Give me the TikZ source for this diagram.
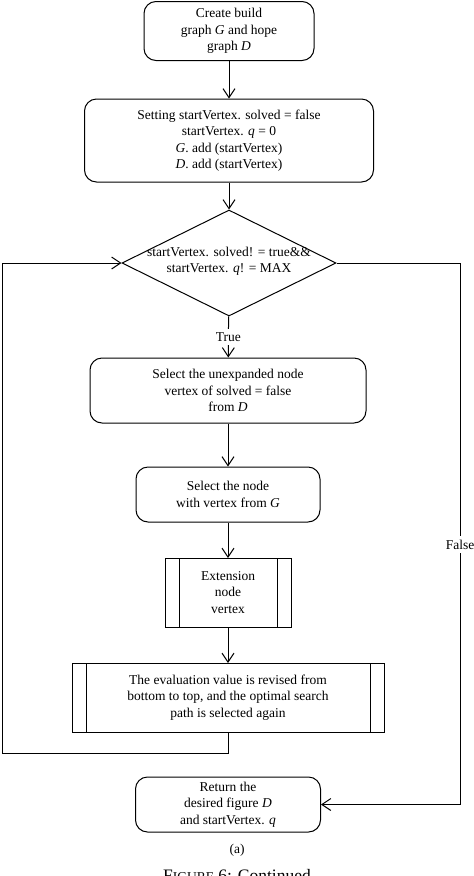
\documentclass[tikz,border=0pt]{standalone}
\usepackage{fontspec}
\setmainfont{Liberation Serif}
\usetikzlibrary{shapes.geometric,arrows.meta}

\tikzset{
  txt/.style={font=\fontsize{13.5}{16.5}\selectfont},
  proc/.style={draw, txt, rounded corners=12pt, align=center, inner sep=2pt},
  subproc/.style={draw, txt, align=center, inner sep=2pt, outer sep=0pt,
    append after command={
      ([xshift=14pt]\tikzlastnode.north west) edge[-] ([xshift=14pt]\tikzlastnode.south west)
      ([xshift=-14pt]\tikzlastnode.north east) edge[-] ([xshift=-14pt]\tikzlastnode.south east)
    }},
  decision/.style={draw, diamond, inner sep=0pt},
}

\begin{document}
\begin{tikzpicture}[x=1pt, y=-1pt, line width=1pt, >={Straight Barb[length=9pt,width=12pt]}]
  \useasboundingbox (0,0) rectangle (474,876);

  % boxes
  \node[proc, minimum width=170pt, minimum height=59pt] (build) at (229,31) {Create build\\graph \textit{G} and hope\\graph \textit{D}};
  \node[proc, minimum width=289pt, minimum height=83pt] (setup) at (229,140.5) {Setting startVertex. solved = false\\startVertex. \textit{q} = 0\\\textit{G}. add (startVertex)\\\textit{D}. add (startVertex)};
  \node[decision, minimum width=214pt, minimum height=106pt] (test) at (229,263) {};
  \node[txt, align=center] (testtxt) at (229,261) {startVertex. solved! = true\&\&\\startVertex. \textit{q}! = MAX};
  \node[proc, minimum width=276pt, minimum height=65pt] (pick) at (228,390.5) {Select the unexpanded node\\vertex of solved = false\\from \textit{D}};
  \node[proc, minimum width=184pt, minimum height=55pt] (sel) at (228,494.5) {Select the node\\with vertex from \textit{G}};
  \node[subproc, minimum width=126pt, minimum height=69pt] (ext) at (228,592.5) {Extension\\node\\vertex};
  \node[subproc, minimum width=312pt, minimum height=69pt] (revise) at (228,697.5) {The evaluation value is revised from\\bottom to top, and the optimal search\\path is selected again};
  \node[proc, minimum width=185pt, minimum height=55pt] (ret) at (228,804.5) {Return the\\desired figure \textit{D}\\and startVertex. \textit{q}};

  % caption
  \node[txt] (sub) at (237,850) {(a)};
  \node[anchor=base, font=\fontsize{17.5}{20}\selectfont] (cap) at (237,881) {F{\fontsize{13.5}{16}\selectfont IGURE} 6: Continued};

  % connectors
  \begin{scope}[every edge/.style={draw, ->}]
    \path (build) edge (setup);
    \path (setup) edge (test);
    \path (test)  edge node[txt, fill=white] {True} (pick);
    \path (pick)  edge (sel);
    \path (sel)   edge (ext);
    \path (ext)   edge (revise);
  \end{scope}

  \coordinate (back) at (2,753);
  \coordinate (falsecorner) at (460,804.5);
  \draw[->] (revise.south) |- (back) |- (test.west);
  \draw[->] (test.east) -| node[txt, pos=0.76, fill=white] {False} (falsecorner) -- (ret.east);

\end{tikzpicture}
\end{document}
